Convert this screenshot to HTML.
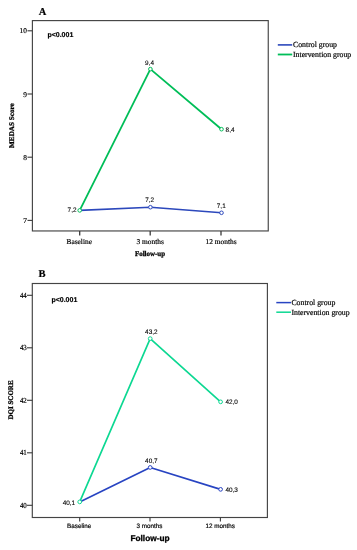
<!DOCTYPE html>
<html><head><meta charset="utf-8"><title>Figure</title>
<style>
html,body{margin:0;padding:0;background:#fff;}
body{width:357px;height:550px;overflow:hidden;}
svg{display:block;}
.se{font-family:"Liberation Serif","Times New Roman",serif;}
.sa{font-family:"Liberation Sans",Arial,sans-serif;}
text{text-rendering:geometricPrecision;fill:#000;stroke:#000;stroke-width:0.18px;}
.b{stroke-width:0.3px;}
.n text{stroke-width:0.1px;}
</style></head><body>
<svg width="357" height="550" viewBox="0 0 357 550">
<rect width="357" height="550" fill="#fff"/>

<!-- ===== Panel A ===== -->
<text class="se" x="38.8" y="14.8" font-size="10.5" font-weight="bold">A</text>
<rect x="32.4" y="20.6" width="235.85" height="210.35" fill="none" stroke="#444" stroke-width="1.15"/>
<g stroke="#3a3a3a" stroke-width="1.1">
<line x1="27.5" y1="30.8" x2="32.4" y2="30.8"/>
<line x1="27.5" y1="94" x2="32.4" y2="94"/>
<line x1="27.5" y1="157.2" x2="32.4" y2="157.2"/>
<line x1="27.5" y1="220.4" x2="32.4" y2="220.4"/>
<line x1="79.7" y1="230.95" x2="79.7" y2="235.4" stroke-width="1.3"/>
<line x1="150.2" y1="230.95" x2="150.2" y2="235.4" stroke-width="1.3"/>
<line x1="221" y1="230.95" x2="221" y2="235.4" stroke-width="1.3"/>
</g>
<g class="se" font-size="7.4" text-anchor="end">
<text x="26.9" y="33.3">10</text>
<text x="26.9" y="96.5">9</text>
<text x="26.9" y="159.7">8</text>
<text x="26.9" y="222.9">7</text>
</g>
<g class="se" font-size="7.4" text-anchor="middle">
<text x="79.2" y="244">Baseline</text>
<text x="150.2" y="244">3 months</text>
<text x="221.1" y="244">12 months</text>
</g>
<text class="se b" x="150" y="256" font-size="7.3" font-weight="bold" text-anchor="middle" textLength="30" lengthAdjust="spacingAndGlyphs">Follow-up</text>
<text class="se b" font-size="7.1" font-weight="bold" text-anchor="middle" textLength="44.6" lengthAdjust="spacingAndGlyphs" transform="translate(13.5,125.6) rotate(-90)">MEDAS Score</text>
<text class="sa" x="47.4" y="37.1" font-size="7" font-weight="bold">p&lt;0.001</text>

<polyline points="79.7,210.4 150.4,207.2 221.5,212.8" fill="none" stroke="#2c48bc" stroke-width="1.6" stroke-linejoin="round"/>
<polyline points="79.7,210.4 150.4,69.1 221.5,129.2" fill="none" stroke="#00be58" stroke-width="1.8" stroke-linejoin="round"/>
<g fill="#fff" stroke-width="1">
<circle cx="150.4" cy="207.2" r="1.8" stroke="#2c48bc"/>
<circle cx="221.5" cy="212.8" r="1.8" stroke="#2c48bc"/>
<circle cx="79.7" cy="210.4" r="1.8" stroke="#00be58"/>
<circle cx="150.4" cy="69.1" r="1.8" stroke="#00be58"/>
<circle cx="221.5" cy="129.2" r="1.8" stroke="#00be58"/>
</g>
<g class="sa n" font-size="6.4">
<text x="67.6" y="212">7,2</text>
<text x="145.1" y="64.6">9,4</text>
<text x="225.6" y="132">8,4</text>
<text x="145.2" y="202.4">7,2</text>
<text x="216.8" y="207.8">7,1</text>
</g>
<line x1="277.8" y1="44.9" x2="292.2" y2="44.9" stroke="#2c48bc" stroke-width="1.6"/>
<line x1="277.8" y1="54.5" x2="292.2" y2="54.5" stroke="#00be58" stroke-width="1.8"/>
<g class="se" font-size="7.8">
<text x="293" y="47.3">Control group</text>
<text x="293" y="56.9">Intervention group</text>
</g>

<!-- ===== Panel B ===== -->
<text class="se" x="38.6" y="276.8" font-size="10.5" font-weight="bold">B</text>
<rect x="32.3" y="283.5" width="235.1" height="234" fill="none" stroke="#444" stroke-width="1.15"/>
<g stroke="#3a3a3a" stroke-width="1.1">
<line x1="27" y1="295.3" x2="32.4" y2="295.3"/>
<line x1="27" y1="347.8" x2="32.4" y2="347.8"/>
<line x1="27" y1="400.3" x2="32.4" y2="400.3"/>
<line x1="27" y1="452.8" x2="32.4" y2="452.8"/>
<line x1="27" y1="505.3" x2="32.4" y2="505.3"/>
<line x1="79.7" y1="517.6" x2="79.7" y2="521.4"/>
<line x1="150" y1="517.6" x2="150" y2="521.4"/>
<line x1="220.4" y1="517.6" x2="220.4" y2="521.4"/>
</g>
<g class="se" font-size="7.7" text-anchor="end">
<text x="26.8" y="297.7" textLength="6.9" lengthAdjust="spacingAndGlyphs">44</text>
<text x="26.8" y="350.2" textLength="6.9" lengthAdjust="spacingAndGlyphs">43</text>
<text x="26.8" y="402.7" textLength="6.9" lengthAdjust="spacingAndGlyphs">42</text>
<text x="26.8" y="455.2" textLength="6.9" lengthAdjust="spacingAndGlyphs">41</text>
<text x="26.8" y="507.7" textLength="6.9" lengthAdjust="spacingAndGlyphs">40</text>
</g>
<g class="sa" font-size="6.3" text-anchor="middle">
<text x="79.2" y="527.6">Baseline</text>
<text x="149.4" y="527.6">3 months</text>
<text x="220.2" y="527.6">12 months</text>
</g>
<text class="sa b" x="150" y="541" font-size="8.3" font-weight="bold" text-anchor="middle">Follow-up</text>
<text class="se b" font-size="7" font-weight="bold" text-anchor="middle" transform="translate(13.4,400) rotate(-90)">DQI SCORE</text>
<text class="sa" x="51.4" y="302" font-size="7" font-weight="bold">p&lt;0.001</text>

<polyline points="79.7,501.9 150.2,467.45 220.6,489.35" fill="none" stroke="#2844c2" stroke-width="1.65" stroke-linejoin="round"/>
<polyline points="79.7,501.9 150.2,338.6 220.6,401.85" fill="none" stroke="#0cd892" stroke-width="1.65" stroke-linejoin="round"/>
<g fill="#fff" stroke-width="1">
<circle cx="150.2" cy="467.45" r="1.85" stroke="#2844c2"/>
<circle cx="220.6" cy="489.35" r="1.85" stroke="#2844c2"/>
<circle cx="79.7" cy="501.9" r="1.85" stroke="#0cd892"/>
<circle cx="150.2" cy="338.6" r="1.85" stroke="#0cd892"/>
<circle cx="220.6" cy="401.85" r="1.85" stroke="#0cd892"/>
</g>
<g class="sa n" font-size="6.4">
<text x="62.7" y="505">40,1</text>
<text x="145.1" y="334.1">43,2</text>
<text x="225.4" y="404.3">42,0</text>
<text x="145.1" y="462.7">40,7</text>
<text x="225.4" y="491.6">40,3</text>
</g>
<line x1="276.3" y1="302.6" x2="291" y2="302.6" stroke="#2844c2" stroke-width="1.5"/>
<line x1="276.3" y1="312.2" x2="291" y2="312.2" stroke="#0cd892" stroke-width="1.5"/>
<g class="se" font-size="7.8">
<text x="291.4" y="305">Control group</text>
<text x="291.4" y="314.6">Intervention group</text>
</g>
</svg>
</body></html>
